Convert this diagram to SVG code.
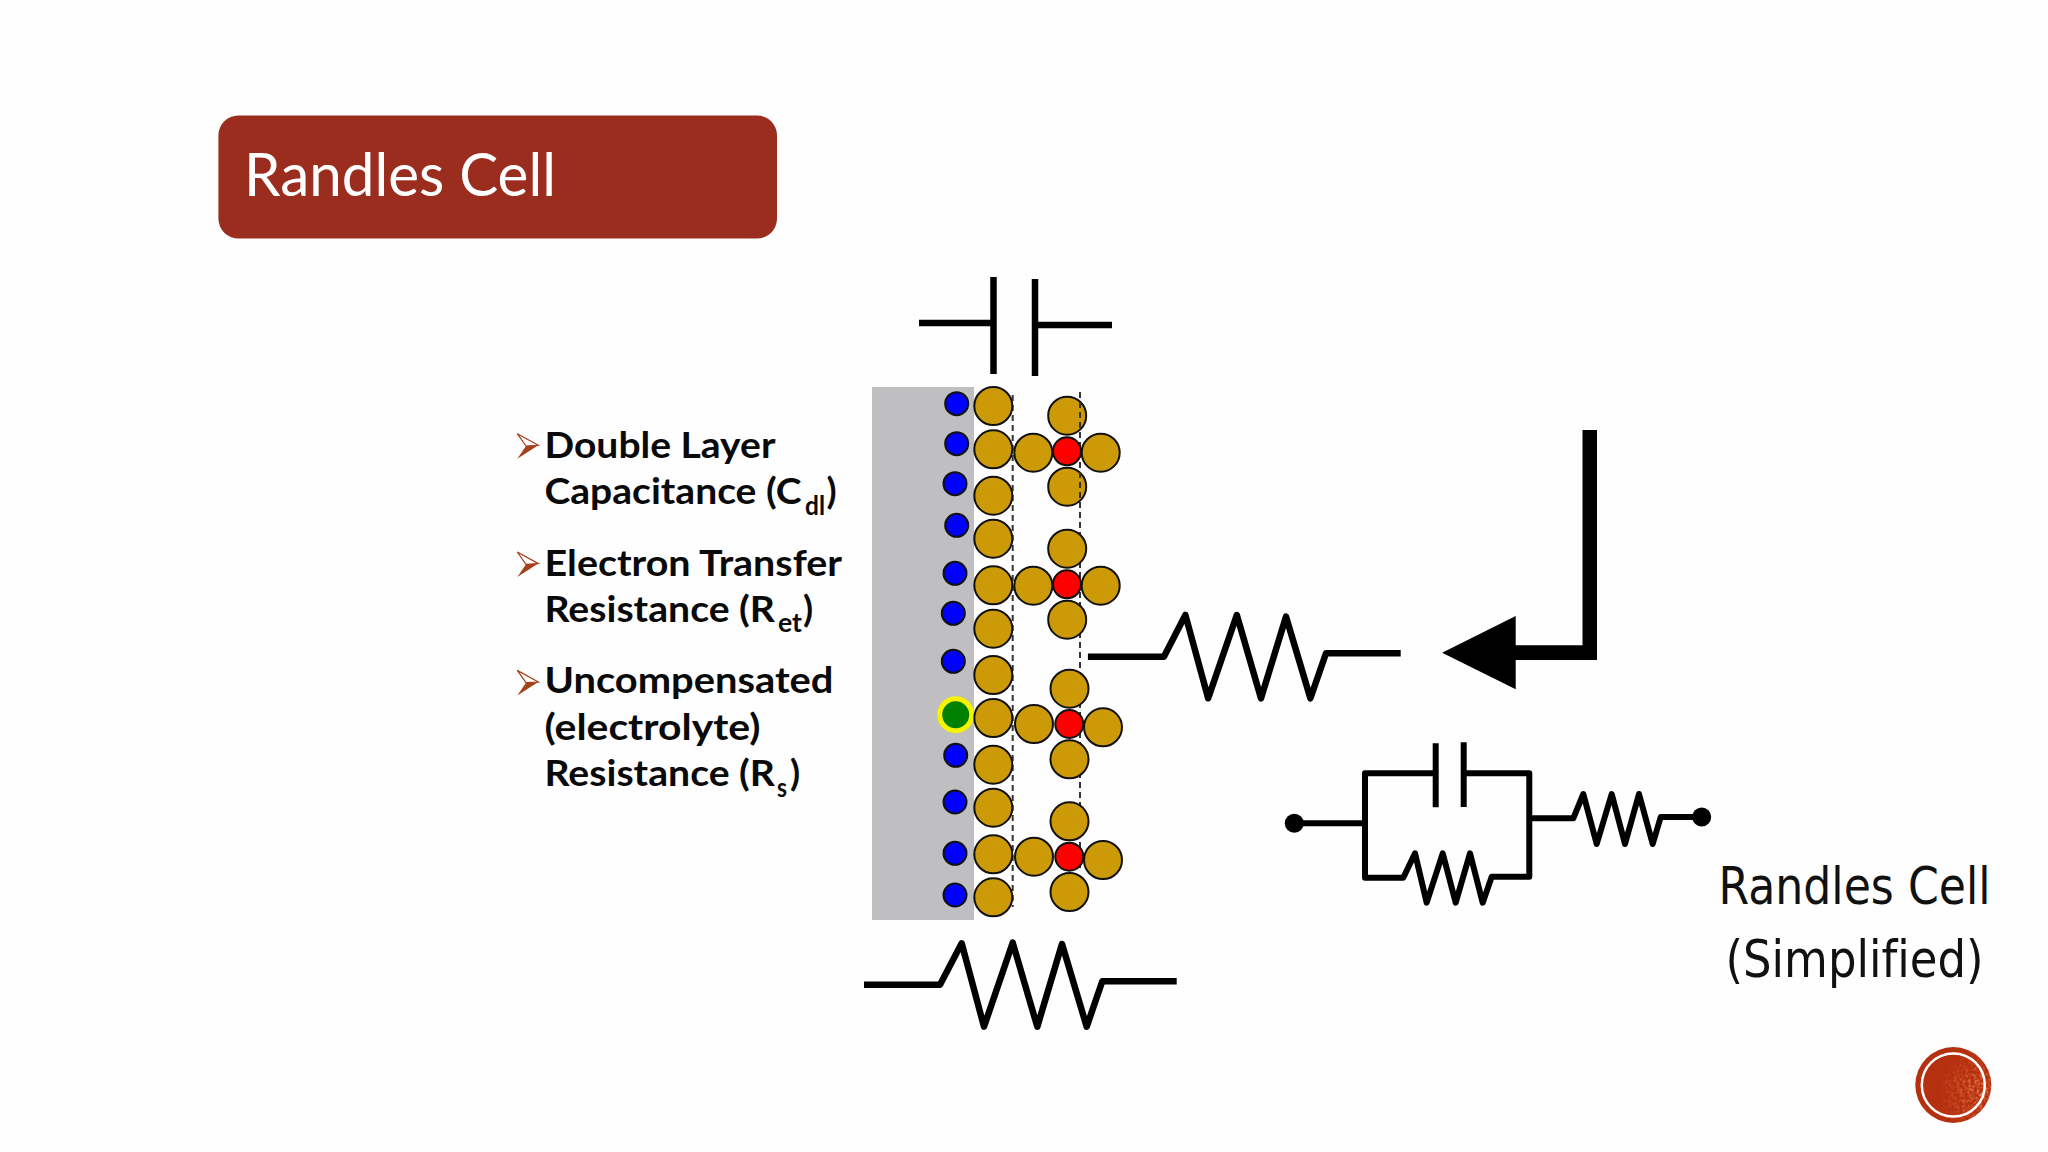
<svg xmlns="http://www.w3.org/2000/svg" width="2048" height="1152" viewBox="0 0 2048 1152">
<style>
.wire{fill:none;stroke:#000;stroke-width:6.5;stroke-linejoin:round;stroke-linecap:butt}
.thin{stroke-width:6}
.au{fill:#cc9a06;stroke:#111;stroke-width:2}
.red{fill:#ff0000;stroke:#111;stroke-width:2}
.blue{fill:#0000ff;stroke:#111;stroke-width:2}
.dash{fill:none;stroke:#333;stroke-width:2;stroke-dasharray:6 4}
.bt{font-family:Lato,"Open Sans",sans-serif;font-weight:700;font-size:37px;fill:#0a0a0a}
.sub{font-size:27px}
.lab{font-family:"DejaVu Sans",sans-serif;font-size:52px;fill:#111;font-variant-ligatures:none}
</style>
<defs>
<g id="bullet">
<path d="M517.3 432.7L538.3 444.3L517.3 457.7L526 445Z" fill="#a5401d"/>
<path d="M517.3 432.7L538.3 444.3L526 445Z" fill="#fff" stroke="#a5401d" stroke-width="1.2"/>
</g>
<radialGradient id="spk" cx="0.85" cy="0.6" r="0.55"><stop offset="0" stop-color="#f08050" stop-opacity="1"/><stop offset="1" stop-color="#f08050" stop-opacity="0"/></radialGradient>
<filter id="noise" x="0" y="0" width="1" height="1"><feTurbulence type="fractalNoise" baseFrequency="0.35" numOctaves="1" seed="4" result="n"/><feColorMatrix in="n" type="matrix" values="0 0 0 0 1 0 0 0 0 1 0 0 0 0 1 3 0 0 0 -1.2" result="a"/><feComposite in="SourceGraphic" in2="a" operator="in"/></filter>
</defs>
<rect width="2048" height="1152" fill="#fefefe"/>
<g id="title">
<rect x="218.400" y="115.500" width="558.600" height="123" rx="20" fill="#9b2d1f"/>
<text x="244" y="196" font-family="Lato,'Open Sans',sans-serif" font-size="60" fill="#fff" textLength="312" lengthAdjust="spacingAndGlyphs">Randles Cell</text>
</g>
<g id="bullets">
<use href="#bullet" y="1"/><use href="#bullet" y="119.300"/><use href="#bullet" y="237.700"/>
<text class="bt" x="544.500" y="458" textLength="231" lengthAdjust="spacingAndGlyphs">Double Layer</text>
<text class="bt" y="504"><tspan x="544.500" textLength="257.200" lengthAdjust="spacingAndGlyphs">Capacitance (C</tspan><tspan class="sub" x="805" y="514.500" textLength="20" lengthAdjust="spacingAndGlyphs">dl</tspan><tspan x="826.500" y="504">)</tspan></text>
<text class="bt" x="544.500" y="575.700" textLength="297.500" lengthAdjust="spacingAndGlyphs">Electron Transfer</text>
<text class="bt" y="621.700"><tspan x="544.500" textLength="230.500" lengthAdjust="spacingAndGlyphs">Resistance (R</tspan><tspan class="sub" x="778" y="632" textLength="24" lengthAdjust="spacingAndGlyphs">et</tspan><tspan x="803" y="621.700">)</tspan></text>
<text class="bt" x="544.500" y="693.200" textLength="289" lengthAdjust="spacingAndGlyphs">Uncompensated</text>
<text class="bt" x="544.500" y="739.500" textLength="216" lengthAdjust="spacingAndGlyphs">(electrolyte)</text>
<text class="bt" y="785.500"><tspan x="544.500" textLength="230.500" lengthAdjust="spacingAndGlyphs">Resistance (R</tspan><tspan class="sub" x="777" y="796.500" textLength="10" lengthAdjust="spacingAndGlyphs">s</tspan><tspan x="790" y="785.500">)</tspan></text>
</g>
<g id="electrode"><rect x="872" y="387" width="102" height="533" fill="#bfbec1"/></g>
<g id="cluster1-under">
<circle class="au" cx="1067.200" cy="415.700" r="19"/><circle class="au" cx="1067.200" cy="486.700" r="19"/>
</g>
<g id="planes">
<path class="dash" d="M1012.700 395V907"/>
<path class="dash" d="M1080 392V870"/>
</g>
<g id="blue-ions">
<circle class="blue" cx="956.700" cy="403.700" r="11.500"/>
<circle class="blue" cx="956.700" cy="443.700" r="11.500"/>
<circle class="blue" cx="955" cy="483.700" r="11.500"/>
<circle class="blue" cx="956.700" cy="525.300" r="11.500"/>
<circle class="blue" cx="955" cy="573.300" r="11.500"/>
<circle class="blue" cx="953.300" cy="613.300" r="11.500"/>
<circle class="blue" cx="953.300" cy="661.300" r="11.500"/>
<circle cx="955.700" cy="714.700" r="16" fill="#008000" stroke="#f4f400" stroke-width="5"/>
<circle class="blue" cx="955.700" cy="755.300" r="11.500"/>
<circle class="blue" cx="955" cy="802" r="11.500"/>
<circle class="blue" cx="955" cy="853.300" r="11.500"/>
<circle class="blue" cx="955" cy="895" r="11.500"/>
</g>
<g id="gold-column">
<circle class="au" cx="993.300" cy="406" r="19"/>
<circle class="au" cx="993.300" cy="449.300" r="19"/>
<circle class="au" cx="993.300" cy="495.700" r="19"/>
<circle class="au" cx="993.300" cy="538.700" r="19"/>
<circle class="au" cx="993.300" cy="585.300" r="19"/>
<circle class="au" cx="993.300" cy="628.700" r="19"/>
<circle class="au" cx="993.300" cy="675" r="19"/>
<circle class="au" cx="993.300" cy="718" r="19"/>
<circle class="au" cx="993.300" cy="764.700" r="19"/>
<circle class="au" cx="993.300" cy="807.700" r="19"/>
<circle class="au" cx="993.300" cy="854.300" r="19"/>
<circle class="au" cx="993.300" cy="897.300" r="19"/>
</g>
<g id="cluster1">
<circle class="au" cx="1033.300" cy="452.700" r="19"/><circle class="au" cx="1100.700" cy="452.700" r="19"/><circle class="red" cx="1067" cy="451.300" r="14"/>
</g>
<g id="cluster2">
<circle class="au" cx="1067.200" cy="548.700" r="19"/><circle class="au" cx="1067.200" cy="619.700" r="19"/><circle class="au" cx="1033.300" cy="585.700" r="19"/><circle class="au" cx="1100.700" cy="585.700" r="19"/><circle class="red" cx="1067" cy="584.300" r="14"/>
</g>
<g id="cluster3">
<circle class="au" cx="1069.500" cy="688.700" r="19"/><circle class="au" cx="1069.500" cy="759.300" r="19"/><circle class="au" cx="1034" cy="724" r="19"/><circle class="au" cx="1103" cy="727.300" r="19"/><circle class="red" cx="1069.300" cy="724" r="14"/>
</g>
<g id="cluster4">
<circle class="au" cx="1069.500" cy="821.300" r="19"/><circle class="au" cx="1069.500" cy="892" r="19"/><circle class="au" cx="1034" cy="856.700" r="19"/><circle class="au" cx="1103" cy="860" r="19"/><circle class="red" cx="1069.300" cy="856.700" r="14"/>
</g>
<g id="connectors">
<path class="wire" d="M919 323H993.500M993.500 277V374M1035 279V376M1035 325H1112"/>
<path class="wire" d="M864 984.700H940L961.700 943.300L984 1026.700L1012.700 942.700L1037.300 1026.700L1062 944L1086.700 1026.700L1102.300 981.300H1176.700"/>
<path class="wire" d="M1087.900 656.700H1163.900L1185.400 615L1208.200 698.300L1236.800 615L1261 698.300L1286 616.700L1310.400 698.300L1326 653.300H1400.700"/>
<path d="M1442.100 652.700L1515.700 616V689.300Z M1515.700 645.300H1582.500V430H1597V660H1515.700Z" fill="#000"/>
<g id="simplified-circuit">
<circle cx="1294.300" cy="823.300" r="9.500" fill="#000"/><circle cx="1701.700" cy="817" r="9.500" fill="#000"/>
<path class="wire thin" d="M1294 823.300H1365M1433.300 773.300H1365V877.700H1403.300L1415 853.300L1426.700 902.700L1442.700 853.300L1455.700 902.700L1470 853.300L1482.700 902.700L1491.700 876.700H1529.300V773.300H1466.700M1435.700 743.300V807.300M1463.700 742.300V807"/>
<path class="wire thin" d="M1530 818.300H1573.300L1583.300 794L1596.700 844L1611.700 794L1625 844L1639 794L1652.700 844L1660.700 817H1701"/>
</g>
</g>
<g id="caption">
<text class="lab" x="1718.500" y="903.500" textLength="272" lengthAdjust="spacingAndGlyphs">Randles Cell</text>
<text class="lab" x="1725.500" y="976.500" textLength="258" lengthAdjust="spacingAndGlyphs">(Simplified)</text>
</g>
<g id="badge">
<circle cx="1953.300" cy="1085" r="38" fill="#b5300e"/>
<circle cx="1953.300" cy="1085" r="38" fill="url(#spk)" filter="url(#noise)"/>
<circle cx="1953.300" cy="1085" r="31.500" fill="none" stroke="#fff" stroke-width="2.500"/>
</g>
</svg>
